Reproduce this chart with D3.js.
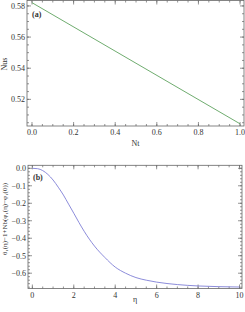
<!DOCTYPE html>
<html>
<head>
<meta charset="utf-8">
<script src="https://cdn.jsdelivr.net/npm/d3@7"></script>
<style>
  body { margin: 0; background: #fff; }
  svg { display: block; }
  text { font-family: "Liberation Serif", "DejaVu Serif", serif; fill: #333; }
</style>
</head>
<body>
<script>
// panel (a): Nus against Nt
const ntValues = [0, 0.5, 1];
const nusValues = [0.5821, 0.5432, 0.5043];
const ntTicks = [0, 0.2, 0.4, 0.6, 0.8, 1.0];
const nusTicks = [0.52, 0.54, 0.56, 0.58];

// panel (b): theta1 - 1 + Nb(phi1 - phi1(0)) against eta
const etaValues = [0, 0.25, 0.5, 0.75, 1, 1.25, 1.5, 1.75, 2, 2.25, 2.5, 2.75, 3, 3.5, 4, 4.5, 5, 5.5, 6, 7, 8, 9, 10];
const thetaValues = [0, -0.002, -0.013, -0.035, -0.067, -0.108, -0.153, -0.205, -0.257, -0.31, -0.36, -0.405, -0.445, -0.51, -0.565, -0.6, -0.625, -0.64, -0.651, -0.665, -0.673, -0.677, -0.679];
const etaTicks = [0, 2, 4, 6, 8, 10];
const thetaTicks = [0.0, -0.1, -0.2, -0.3, -0.4, -0.5, -0.6];

const svg = d3.select("body").append("svg")
    .attr("width", 245)
    .attr("height", 312);

function panel(o) {
    const x = d3.scaleLinear().domain(o.xDomain).range([o.left, o.right]);
    const y = d3.scaleLinear().domain(o.yDomain).range([o.bottom, o.top]);
    const g = svg.append("g");

    // frame
    g.append("rect")
        .attr("x", o.left).attr("y", o.top)
        .attr("width", o.right - o.left).attr("height", o.bottom - o.top)
        .attr("fill", "none").attr("stroke", "#666").attr("stroke-width", 0.8);

    // minor tick positions
    const xm = [];
    for (let v = Math.ceil(o.xDomain[0] / o.xMinorStep) * o.xMinorStep; v <= o.xDomain[1]; v += o.xMinorStep) xm.push(v);
    const ym = [];
    for (let v = Math.ceil(o.yDomain[0] / o.yMinorStep) * o.yMinorStep; v <= o.yDomain[1]; v += o.yMinorStep) ym.push(v);

    // ticks on all four sides, pointing inward
    const tick = (x1, y1, x2, y2) => g.append("line")
        .attr("x1", x1).attr("y1", y1).attr("x2", x2).attr("y2", y2)
        .attr("stroke", "#666").attr("stroke-width", 0.7);
    xm.forEach(v => { tick(x(v), o.bottom, x(v), o.bottom - 2); tick(x(v), o.top, x(v), o.top + 2); });
    ym.forEach(v => { tick(o.left, y(v), o.left + 2, y(v)); tick(o.right, y(v), o.right - 2, y(v)); });
    o.xTicks.forEach(v => { tick(x(v), o.bottom, x(v), o.bottom - 4); tick(x(v), o.top, x(v), o.top + 4); });
    o.yTicks.forEach(v => { tick(o.left, y(v), o.left + 4, y(v)); tick(o.right, y(v), o.right - 4, y(v)); });

    // tick labels
    g.selectAll(".xl").data(o.xTicks).enter().append("text")
        .attr("x", d => x(d)).attr("y", o.bottom + 9)
        .attr("text-anchor", "middle").attr("font-size", 8)
        .text(o.xFormat);
    g.selectAll(".yl").data(o.yTicks).enter().append("text")
        .attr("x", o.left - 2).attr("y", d => y(d) + 2.8)
        .attr("text-anchor", "end").attr("font-size", 8)
        .text(o.yFormat);

    // axis labels
    g.append("text")
        .attr("x", (o.left + o.right) / 2).attr("y", o.xLabelY)
        .attr("text-anchor", "middle").attr("font-size", 8)
        .text(o.xLabel);
    g.append("text")
        .attr("transform", "translate(" + o.yLabelX + "," + o.yLabelMid + ") rotate(-90)")
        .attr("text-anchor", "middle").attr("font-size", o.yLabelSize)
        .text(o.yLabel);

    // panel tag
    g.append("text")
        .attr("x", o.left + 5).attr("y", o.top + o.tagDy)
        .attr("font-size", 8).attr("font-weight", "bold")
        .text(o.tag);

    // curve
    const line = d3.line()
        .x((d, i) => x(o.xs[i]))
        .y(d => y(d))
        .curve(d3.curveMonotoneX);
    g.append("path")
        .datum(o.ys)
        .attr("d", line)
        .attr("fill", "none")
        .attr("stroke", o.color)
        .attr("stroke-width", 0.9);
}

panel({
    left: 27, right: 244, top: 0.5, bottom: 126,
    xDomain: [-0.024, 1.019], yDomain: [0.5029, 0.5835],
    xTicks: ntTicks, yTicks: nusTicks,
    xMinorStep: 0.05, yMinorStep: 0.005,
    xFormat: d3.format(".1f"), yFormat: d3.format(".2f"),
    xLabel: "Nt", xLabelY: 146,
    yLabel: "Nus", yLabelX: 7, yLabelMid: 64, yLabelSize: 8,
    tag: "(a)", tagDy: 16,
    xs: ntValues, ys: nusValues, color: "#5fa35f"
});

panel({
    left: 28, right: 242, top: 165.3, bottom: 288.5,
    xDomain: [-0.21, 10.12], yDomain: [-0.6875, 0.0172],
    xTicks: etaTicks, yTicks: thetaTicks,
    xMinorStep: 0.5, yMinorStep: 0.02,
    xFormat: d3.format("d"), yFormat: d => d === 0 ? "0.0" : "\u2212" + Math.abs(d).toFixed(1),
    xLabel: "\u03B7", xLabelY: 302,
    yLabel: "\u03B8\u2081(\u03B7)\u22121+Nb(\u03C6\u2081(\u03B7)\u2212\u03C6\u2081(0))", yLabelX: 7, yLabelMid: 219, yLabelSize: 7,
    tag: "(b)", tagDy: 15,
    xs: etaValues, ys: thetaValues, color: "#7f7fd6"
});
</script>
</body>
</html>
